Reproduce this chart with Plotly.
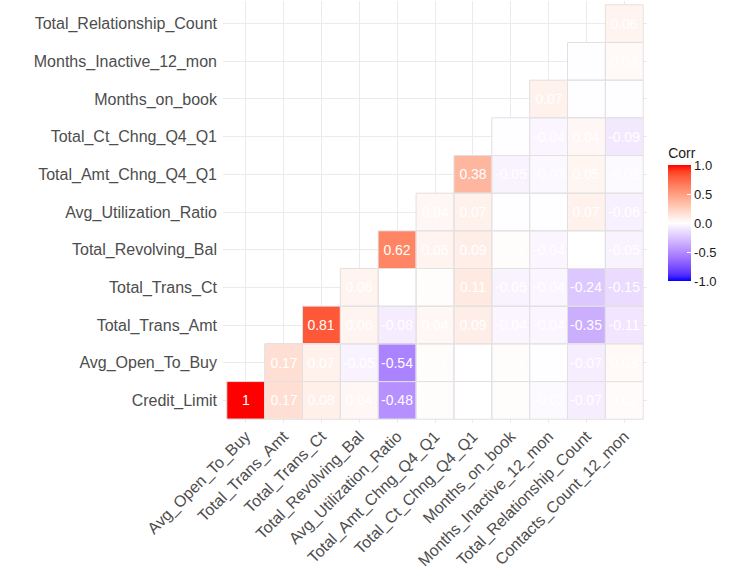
import plotly.graph_objects as go

# y categories, bottom -> top
row_labels = ["Credit_Limit", "Avg_Open_To_Buy", "Total_Trans_Amt", "Total_Trans_Ct",
              "Total_Revolving_Bal", "Avg_Utilization_Ratio", "Total_Amt_Chng_Q4_Q1",
              "Total_Ct_Chng_Q4_Q1", "Months_on_book", "Months_Inactive_12_mon",
              "Total_Relationship_Count"]
# x categories, left -> right
col_labels = ["Avg_Open_To_Buy", "Total_Trans_Amt", "Total_Trans_Ct", "Total_Revolving_Bal",
              "Avg_Utilization_Ratio", "Total_Amt_Chng_Q4_Q1", "Total_Ct_Chng_Q4_Q1",
              "Months_on_book", "Months_Inactive_12_mon", "Total_Relationship_Count",
              "Contacts_Count_12_mon"]

# each row lists values starting at the column with the same index as the row
r_credit_limit = [1.00, 0.17, 0.08, 0.04, -0.48, 0.01, 0.00, 0.01, -0.02, -0.07, 0.02]
r_avg_open = [0.17, 0.07, -0.05, -0.54, 0.01, 0.00, 0.01, -0.01, -0.07, 0.03]
r_trans_amt = [0.81, 0.06, -0.08, 0.04, 0.09, -0.04, -0.04, -0.35, -0.11]
r_trans_ct = [0.06, 0.00, 0.01, 0.11, -0.05, -0.04, -0.24, -0.15]
r_revolving = [0.62, 0.06, 0.09, 0.01, -0.04, 0.00, -0.05]
r_util = [0.04, 0.07, -0.01, -0.01, 0.07, -0.06]
r_amt_chng = [0.38, -0.05, -0.03, 0.05, -0.02]
r_ct_chng = [-0.01, -0.04, 0.04, -0.09]
r_months_book = [0.07, -0.01, -0.01]
r_inactive = [-0.01, 0.03]
r_relationship = [0.06]

rows = [r_credit_limit, r_avg_open, r_trans_amt, r_trans_ct, r_revolving, r_util,
        r_amt_chng, r_ct_chng, r_months_book, r_inactive, r_relationship]

n = len(col_labels)
z, text = [], []
for i, r in enumerate(rows):
    zr = [None] * i + list(r)
    tr = []
    for v in zr:
        if v is None:
            tr.append("")
        else:
            s = f"{v:.2f}".rstrip("0").rstrip(".")
            if s in ("-0", ""):
                s = "0"
            tr.append(s)
    z.append(zr)
    text.append(tr)

# blue-white-red diverging scale interpolated in Lab (like ggplot gradient2)
def srgb_to_lab(c):
    def lin(u):
        u = u / 255
        return u / 12.92 if u <= 0.04045 else ((u + 0.055) / 1.055) ** 2.4
    r, g, b = [lin(u) for u in c]
    X = (0.4124 * r + 0.3576 * g + 0.1805 * b) / 0.95047
    Y = (0.2126 * r + 0.7152 * g + 0.0722 * b) / 1.0
    Z = (0.0193 * r + 0.1192 * g + 0.9505 * b) / 1.08883
    def f(t):
        return t ** (1 / 3) if t > 0.008856 else 7.787 * t + 16 / 116
    fx, fy, fz = f(X), f(Y), f(Z)
    return (116 * fy - 16, 500 * (fx - fy), 200 * (fy - fz))

def lab_to_srgb(lab):
    L, a, b = lab
    fy = (L + 16) / 116
    fx = fy + a / 500
    fz = fy - b / 200
    def finv(t):
        return t ** 3 if t ** 3 > 0.008856 else (t - 16 / 116) / 7.787
    X, Y, Z = finv(fx) * 0.95047, finv(fy), finv(fz) * 1.08883
    r = 3.2406 * X - 1.5372 * Y - 0.4986 * Z
    g = -0.9689 * X + 1.8758 * Y + 0.0415 * Z
    bb = 0.0557 * X - 0.2040 * Y + 1.0570 * Z
    def gam(u):
        u = max(0.0, min(1.0, u))
        return 12.92 * u if u <= 0.0031308 else 1.055 * u ** (1 / 2.4) - 0.055
    return tuple(int(round(gam(u) * 255)) for u in (r, g, bb))

low, mid, high = (0, 0, 255), (255, 255, 255), (255, 0, 0)
lab_low, lab_mid, lab_high = srgb_to_lab(low), srgb_to_lab(mid), srgb_to_lab(high)
colorscale = []
steps = 20
for k in range(steps + 1):
    t = k / steps
    if t <= 0.5:
        u = t / 0.5
        lab = tuple(lab_low[m] + (lab_mid[m] - lab_low[m]) * u for m in range(3))
    else:
        u = (t - 0.5) / 0.5
        lab = tuple(lab_mid[m] + (lab_high[m] - lab_mid[m]) * u for m in range(3))
    rgb = lab_to_srgb(lab)
    colorscale.append([t, f"rgb({rgb[0]},{rgb[1]},{rgb[2]})"])

FONT = "Liberation Sans, Arial, sans-serif"

fig = go.Figure()
fig.add_trace(go.Heatmap(
    z=z, x=col_labels, y=row_labels, text=text, texttemplate="%{text}",
    textfont=dict(color="white", size=14, family=FONT),
    colorscale=colorscale, zmin=-1, zmax=1, hoverongaps=False,
    colorbar=dict(
        title=dict(text="Corr", side="top", font=dict(size=14, color="#1a1a1a")),
        x=1.05, xanchor="left", xpad=0, ypad=0,
        y=0.66, yanchor="top",
        thickness=23, len=137, lenmode="pixels",
        tickvals=[-1, -0.5, 0, 0.5, 1], ticktext=["-1.0", "-0.5", "0.0", "0.5", "1.0"],
        ticks="inside", ticklen=4, tickcolor="white",
        tickfont=dict(size=13, color="#1a1a1a"), outlinewidth=0,
    ),
))

shapes = []
for i in range(len(rows)):
    for j in range(i, n):
        shapes.append(dict(type="rect", xref="x", yref="y",
                           x0=j - 0.5, x1=j + 0.5, y0=i - 0.5, y1=i + 0.5,
                           line=dict(color="#e3e0e0", width=1), layer="above"))

fig.update_layout(
    width=736, height=578,
    margin=dict(l=223, r=89, t=1, b=155),
    paper_bgcolor="white", plot_bgcolor="white",
    font=dict(family=FONT),
    shapes=shapes,
)
fig.update_xaxes(type="category", range=[-0.6, 10.6], showgrid=True, gridcolor="#ebebeb",
                 gridwidth=1, zeroline=False, tickangle=-45, showline=False,
                 ticklabelstandoff=0,
                 tickfont=dict(size=16, color="#4d4d4d"))
fig.update_yaxes(type="category", range=[-0.6, 10.6], showgrid=True, gridcolor="#ebebeb",
                 gridwidth=1, zeroline=False, showline=False,
                 ticklabelstandoff=5,
                 tickfont=dict(size=16, color="#4d4d4d"))

fig.write_html("out.html")
